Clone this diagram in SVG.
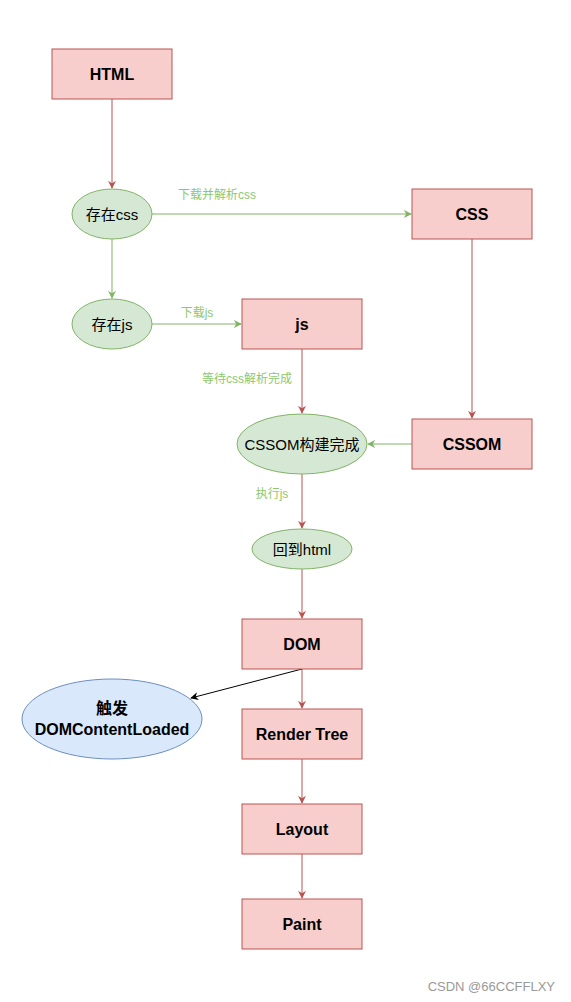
<svg xmlns="http://www.w3.org/2000/svg" width="571" height="1002" viewBox="0 0 571 1002">
<style>
.r{fill:#f8cecc;stroke:#b85450;stroke-width:1}
.g{fill:#d5e8d4;stroke:#82b366;stroke-width:1}
.b{fill:#dae8fc;stroke:#6c8ebf;stroke-width:1}
.t{font-family:"Liberation Sans","Noto Sans CJK SC",sans-serif;font-size:15px;fill:#000;text-anchor:middle;dominant-baseline:central}
.bd{font-weight:bold;font-size:16px}
.lb{font-family:"Liberation Sans","Noto Sans CJK SC",sans-serif;font-size:12px;fill:#8cc86e;text-anchor:middle;dominant-baseline:central}
.er{stroke:#b85450;fill:none;stroke-width:1}
.eg{stroke:#82b366;fill:none;stroke-width:1}
.ek{stroke:#000;fill:none;stroke-width:1}
</style>
<defs>
<marker id="ar" viewBox="0 0 10 10" refX="9" refY="5" markerWidth="8" markerHeight="8" markerUnits="userSpaceOnUse" orient="auto"><path d="M0,0 L10,5 L0,10 L3,5 Z" fill="#b85450"/></marker>
<marker id="ag" viewBox="0 0 10 10" refX="9" refY="5" markerWidth="8" markerHeight="8" markerUnits="userSpaceOnUse" orient="auto"><path d="M0,0 L10,5 L0,10 L3,5 Z" fill="#82b366"/></marker>
<marker id="ak" viewBox="0 0 10 10" refX="9" refY="5" markerWidth="8" markerHeight="8" markerUnits="userSpaceOnUse" orient="auto"><path d="M0,0 L10,5 L0,10 L3,5 Z" fill="#000"/></marker>
</defs>
<rect width="571" height="1002" fill="#fff"/>
<g id="connectors">
<line class="er" x1="112" y1="99" x2="112" y2="188" marker-end="url(#ar)"/>
<line class="eg" x1="152" y1="214" x2="411" y2="214" marker-end="url(#ag)"/>
<line class="eg" x1="112" y1="239" x2="112" y2="298" marker-end="url(#ag)"/>
<line class="eg" x1="152" y1="324" x2="241" y2="324" marker-end="url(#ag)"/>
<line class="er" x1="302" y1="349" x2="302" y2="413" marker-end="url(#ar)"/>
<line class="er" x1="472" y1="239" x2="472" y2="418" marker-end="url(#ar)"/>
<line class="eg" x1="412" y1="444" x2="368" y2="444" marker-end="url(#ag)"/>
<line class="er" x1="302" y1="474" x2="302" y2="528" marker-end="url(#ar)"/>
<line class="er" x1="302" y1="569" x2="302" y2="618" marker-end="url(#ar)"/>
<line class="er" x1="302" y1="669" x2="302" y2="708" marker-end="url(#ar)"/>
<line class="ek" x1="302" y1="669" x2="191" y2="698" marker-end="url(#ak)"/>
<line class="er" x1="302" y1="759" x2="302" y2="803" marker-end="url(#ar)"/>
<line class="er" x1="302" y1="854" x2="302" y2="898" marker-end="url(#ar)"/>
<text class="lb" x="217" y="195">下载并解析css</text>
<text class="lb" x="197" y="313">下载js</text>
<text class="lb" x="247" y="379">等待css解析完成</text>
<text class="lb" x="272" y="494">执行js</text>
</g>
<g id="html"><rect class="r" x="52" y="49" width="120" height="50"/><text class="t bd" x="112" y="74">HTML</text></g>
<g id="has-css"><ellipse class="g" cx="112" cy="214" rx="40" ry="25"/><text class="t" x="112" y="214">存在css</text></g>
<g id="css"><rect class="r" x="412" y="189" width="120" height="50"/><text class="t bd" x="472" y="214">CSS</text></g>
<g id="has-js"><ellipse class="g" cx="112" cy="324" rx="40" ry="25"/><text class="t" x="112" y="324">存在js</text></g>
<g id="js"><rect class="r" x="242" y="299" width="120" height="50"/><text class="t bd" x="302" y="324">js</text></g>
<g id="cssom-done"><ellipse class="g" cx="302" cy="444" rx="65" ry="30"/><text class="t" x="302" y="444">CSSOM构建完成</text></g>
<g id="cssom"><rect class="r" x="412" y="419" width="120" height="50"/><text class="t bd" x="472" y="444">CSSOM</text></g>
<g id="back-html"><ellipse class="g" cx="302" cy="549" rx="50" ry="20"/><text class="t" x="302" y="549">回到html</text></g>
<g id="dom"><rect class="r" x="242" y="619" width="120" height="50"/><text class="t bd" x="302" y="644">DOM</text></g>
<g id="dcl"><ellipse class="b" cx="112" cy="719" rx="90" ry="40"/><text class="t bd" x="112" y="708">触发</text><text class="t bd" x="112" y="729">DOMContentLoaded</text></g>
<g id="render"><rect class="r" x="242" y="709" width="120" height="50"/><text class="t bd" x="302" y="734">Render Tree</text></g>
<g id="layout"><rect class="r" x="242" y="804" width="120" height="50"/><text class="t bd" x="302" y="829">Layout</text></g>
<g id="paint"><rect class="r" x="242" y="899" width="120" height="50"/><text class="t bd" x="302" y="924">Paint</text></g>
<text x="555" y="986" font-family="Liberation Sans, sans-serif" font-size="13" fill="#999" text-anchor="end" dominant-baseline="central">CSDN @66CCFFLXY</text>
</svg>
